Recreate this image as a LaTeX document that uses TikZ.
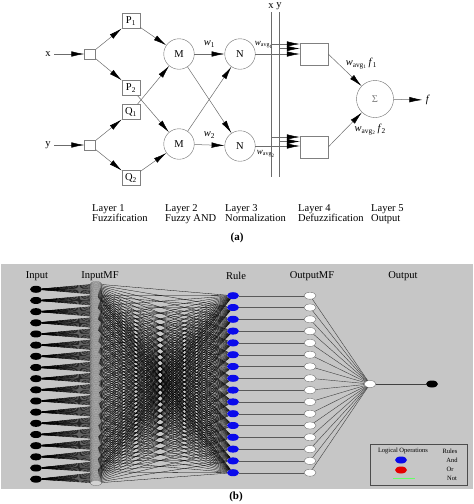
\documentclass[tikz,border=0pt]{standalone}
\usepackage{fontspec}
\setmainfont{Liberation Serif}
\usetikzlibrary{arrows.meta,shapes.geometric}
\definecolor{panelgray}{RGB}{198,198,198}
\definecolor{rulblue}{RGB}{10,10,235}

\begin{document}
\begin{tikzpicture}[x=1pt,y=-1pt,font=\fontsize{10.5}{10}\selectfont,
		link/.style={draw=gray!85!black,line width=0.5pt,-{Latex[length=13pt,width=5.5pt,color=black]}},
		plainline/.style={draw=gray!85!black,line width=0.5pt},
		tinybox/.style={draw=gray,minimum width=11pt,minimum height=10pt,inner sep=0pt},
		mfbox/.style={draw=gray,minimum width=18pt,minimum height=15pt,inner sep=0pt},
		defbox/.style={draw=gray,minimum width=28pt,minimum height=22pt,inner sep=0pt},
		opcirc/.style={circle,draw=gray!85!black,minimum size=30.5pt,inner sep=0pt},
		layerlbl/.style={anchor=north west,align=left,inner sep=0pt},
		anfisnode/.style={ellipse,minimum width=12pt,minimum height=7pt,inner sep=0pt},
		innode/.style={anfisnode,fill=black},
		rulenode/.style={anfisnode,fill=rulblue},
		omfnode/.style={anfisnode,fill=white,draw=gray!70!black,line width=0.3pt},
		mfnode/.style={ellipse,minimum width=12pt,minimum height=5pt,inner sep=0pt,fill=gray!35,draw=gray!60!black,line width=0.2pt},
		legtxt/.style={font=\fontsize{6.5}{7}\selectfont,inner sep=0pt}]
	\useasboundingbox (0,0) rectangle (474,504);
	% (a) five layers
	\node (xin) at (48,54) {x};
	\node (yin) at (48,145) {y};
	\node[tinybox] (bx) at (90,54) {};
	\node[tinybox] (by) at (90,145) {};
	\node[mfbox] (p1) at (131,21) {P\textsubscript{1}};
	\node[mfbox] (p2) at (131,88) {P\textsubscript{2}};
	\node[mfbox] (q1) at (131,112) {Q\textsubscript{1}};
	\node[mfbox] (q2) at (131,178) {Q\textsubscript{2}};
	\node[opcirc] (m1) at (179,54) {M};
	\node[opcirc] (m2) at (179,144) {M};
	\node[opcirc] (n1) at (240,54) {N};
	\node[opcirc] (n2) at (240,146) {N};
	\node[defbox] (d1) at (314,54) {};
	\node[defbox] (d2) at (314,147) {};
	\node[opcirc,minimum size=37pt] (sum) at (375,99) {\textcolor{gray}{Σ}};
	\node (fout) at (428,100) {\textit{f}};
	\draw[link] (xin) -- (bx);
	\draw[link] (yin) -- (by);
	\draw[link] (bx) -- (p1);
	\draw[link] (bx) -- (p2);
	\draw[link] (by) -- (q1);
	\draw[link] (by) -- (q2);
	\draw[link] (p1) -- (m1);
	\draw[link] (q1) -- (m1);
	\draw[link] (p2) -- (m2);
	\draw[link] (q2) -- (m2);
	\draw[link] (m1) -- node[above=3pt] {\textit{w}\textsubscript{1}} (n1);
	\draw[link] (m2) -- node[above=3pt] {\textit{w}\textsubscript{2}} (n2);
	\draw[link] (m1) -- (n2);
	\draw[link] (m2) -- (n1);
	% x and y rails
	\node[inner sep=0pt] (xlab) at (271,6.5) {x};
	\node[inner sep=0pt] (ylab) at (279,6.5) {y};
	\coordinate (xtop) at (271,12);
	\coordinate (xbot) at (271,177);
	\coordinate (ytop) at (279,12);
	\coordinate (ybot) at (279,177);
	\draw[plainline] (xtop) -- (xbot);
	\draw[plainline] (ytop) -- (ybot);
	\coordinate (xr1) at (271,44);
	\coordinate (yr1) at (279,48.5);
	\coordinate (xr2) at (271,137);
	\coordinate (yr2) at (279,141.5);
	\draw[link] (xr1) -- (xr1 -| d1.west);
	\draw[link] (yr1) -- (yr1 -| d1.west);
	\draw[link] (n1) -- (n1 -| d1.west);
	\draw[link] (xr2) -- (xr2 -| d2.west);
	\draw[link] (yr2) -- (yr2 -| d2.west);
	\draw[link] (n2) -- (n2 -| d2.west);
	\node[font=\fontsize{9}{9}\selectfont] (wa1) at (264,45) {\textit{w}\textsubscript{avg\textsubscript{1}}};
	\node[font=\fontsize{9}{9}\selectfont] (wa2) at (266,154) {\textit{w}\textsubscript{avg\textsubscript{2}}};
	\draw[link] (d1.east) -- node[right=4pt,pos=0.3] {\textit{w}\textsubscript{avg\textsubscript{1}}\,\textit{f}\textsubscript{1}} (sum);
	\draw[link] (d2.east) -- node[right=6pt,pos=0.5] {\textit{w}\textsubscript{avg\textsubscript{2}}\,\textit{f}\textsubscript{2}} (sum);
	\draw[link] (sum) -- (fout);
	\node[layerlbl] (lay1) at (92,204) {Layer 1\\Fuzzification};
	\node[layerlbl] (lay2) at (165,204) {Layer 2\\Fuzzy AND};
	\node[layerlbl] (lay3) at (225,204) {Layer 3\\Normalization};
	\node[layerlbl] (lay4) at (298,204) {Layer 4\\Defuzzification};
	\node[layerlbl] (lay5) at (371,204) {Layer 5\\Output};
	\node[font=\fontsize{11}{11}\selectfont\bfseries] (capa) at (237,238) {(a)};
	% (b) anfis structure
	\fill[panelgray] (1,264) rectangle (473,489);
	\node (hin) at (37,276) {Input};
	\node (hmf) at (100,276) {InputMF};
	\node (hrule) at (236,276) {Rule};
	\node (homf) at (312,276) {OutputMF};
	\node (hout) at (403,276) {Output};
	\foreach \i in {0,...,17}
		\node[innode] (in\i) at (36,{289.3+11.17*\i}) {};
	\foreach \k in {0,...,287}
		\node[mfnode] (mf\k) at (96,{284+0.6934*\k}) {};
	\foreach \j in {0,...,15}{
		\node[rulenode] (r\j) at (233,{295.7+11.8*\j}) {};
		\node[omfnode] (om\j) at (310,{295.7+11.8*\j}) {};
	}
	\node[omfnode] (agg) at (370,384) {};
	\node[innode] (out) at (432,384) {};
	\foreach \i in {0,...,17}
		\foreach \j in {0,...,15}{
			\pgfmathtruncatemacro\k{16*\i+\j}
			\draw[black,line width=0.35pt] (in\i) -- (mf\k);
			\draw[black,line width=0.28pt] (mf\k) -- (r\j);
		}
	\foreach \j in {0,...,15}{
		\draw[gray!70!black,line width=0.4pt] (r\j) -- (om\j);
		\draw[gray!50!black,line width=0.4pt] (om\j) -- (agg);
	}
	\draw[gray!50!black,line width=0.5pt] (agg) -- (out);
	% legend
	\draw[gray!60!black,line width=0.6pt] (370,444) rectangle (467,485);
	\node[legtxt] (lgops) at (403,451) {Logical Operations};
	\node[legtxt] (lgrules) at (450,451) {Rules};
	\node[rulenode] (lgand) at (401,460) {};
	\node[legtxt] (lgandt) at (452,460) {And};
	\node[anfisnode,fill=red!90!black] (lgor) at (401,470) {};
	\node[legtxt] (lgort) at (450,469.5) {Or};
	\coordinate (lgn1) at (393,478.5);
	\coordinate (lgn2) at (415,478.5);
	\draw[green!60!white,line width=0.5pt] (lgn1) -- (lgn2);
	\node[legtxt] (lgnot) at (452,478.5) {Not};
	\node[font=\fontsize{11}{11}\selectfont\bfseries] (capb) at (236,497) {(b)};
\end{tikzpicture}
\end{document}
